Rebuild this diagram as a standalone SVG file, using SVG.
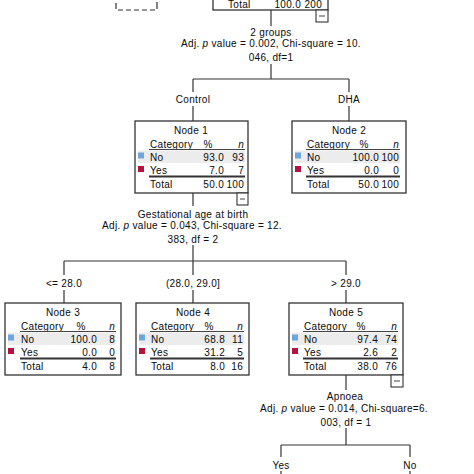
<svg xmlns="http://www.w3.org/2000/svg" width="474" height="474" viewBox="0 0 474 474">
<defs>
<style>
text{font-family:"Liberation Sans",Arial,sans-serif;font-size:10px;fill:#0a0a0a;letter-spacing:0.3px}
.c{text-anchor:middle}
.r{text-anchor:end}
.i{font-style:italic}
.box{fill:#fff;stroke:#333;stroke-width:1.3}
.ln{stroke:#333;stroke-width:1.2;fill:none}
.hl{stroke:#444;stroke-width:1}
.dl{stroke:#333;stroke-width:2}
.band{fill:#ececec}
.sqb{fill:#6ea6dc}
.sqr{fill:#b5123f}
.mb{fill:#fff;stroke:#333;stroke-width:1.1}
.dash{stroke:#333;stroke-width:1.2;stroke-dasharray:5 3;fill:none}
</style>
</defs>
<rect width="474" height="474" fill="#fff"/>

<g id="connectors">
<line class="ln" x1="271" y1="10" x2="271" y2="26"/>
<line class="ln" x1="271" y1="64" x2="271" y2="79"/>
<line class="ln" x1="193" y1="79" x2="349" y2="79"/>
<line class="ln" x1="193" y1="79" x2="193" y2="92"/>
<line class="ln" x1="349" y1="79" x2="349" y2="92"/>
<line class="ln" x1="193" y1="106" x2="193" y2="121"/>
<line class="ln" x1="349" y1="106" x2="349" y2="121"/>
<line class="ln" x1="193" y1="193" x2="193" y2="206"/>
<line class="ln" x1="193" y1="245" x2="193" y2="261"/>
<line class="ln" x1="64" y1="261" x2="346" y2="261"/>
<line class="ln" x1="64" y1="261" x2="64" y2="275"/>
<line class="ln" x1="193" y1="261" x2="193" y2="275"/>
<line class="ln" x1="346" y1="261" x2="346" y2="275"/>
<line class="ln" x1="64" y1="290" x2="64" y2="303"/>
<line class="ln" x1="193" y1="290" x2="193" y2="303"/>
<line class="ln" x1="346" y1="290" x2="346" y2="303"/>
<line class="ln" x1="346" y1="375" x2="346" y2="390"/>
<line class="ln" x1="346" y1="428" x2="346" y2="445"/>
<line class="ln" x1="281" y1="445" x2="410" y2="445"/>
<line class="ln" x1="281" y1="445" x2="281" y2="457"/>
<line class="ln" x1="410" y1="445" x2="410" y2="457"/>
<line class="ln" x1="281" y1="471" x2="281" y2="474"/>
<line class="ln" x1="410" y1="471" x2="410" y2="474"/>
</g>

<g id="split-labels">
<text class="c" x="271" y="35.5">2 groups</text>
<text class="c" x="271" y="47">Adj. <tspan class="i">p</tspan> value = 0.002, Chi-square = 10.</text>
<text class="c" x="271" y="61">046, df=1</text>
<text class="c" x="193" y="103">Control</text>
<text class="c" x="349" y="103">DHA</text>
<text class="c" x="193" y="217.5">Gestational age at birth</text>
<text class="c" x="192" y="229">Adj. <tspan class="i">p</tspan> value = 0.043, Chi-square = 12.</text>
<text class="c" x="193" y="243">383, df = 2</text>
<text class="c" x="64" y="287">&lt;= 28.0</text>
<text class="c" x="193" y="287">(28.0, 29.0]</text>
<text class="c" x="346" y="287">&gt; 29.0</text>
<text class="c" x="345" y="399.5">Apnoea</text>
<text class="c" x="344" y="411.5">Adj. <tspan class="i">p</tspan> value = 0.014, Chi-square=6.</text>
<text class="c" x="346" y="425.5">003, df = 1</text>
<text class="c" x="281" y="468.5">Yes</text>
<text class="c" x="410" y="468.5">No</text>
</g>

<g id="dashed-box">
<line class="dash" x1="118" y1="10" x2="157" y2="10"/>
<line class="ln" x1="116" y1="3" x2="116" y2="9"/>
<line class="ln" x1="157" y1="2" x2="157" y2="9"/>
</g>

<g id="node0">
<rect class="box" x="213" y="-62" width="115" height="72"/>
<line class="dl" x1="227" y1="-7" x2="323" y2="-7"/>
<text x="228" y="7.5">Total</text>
<text class="r" x="301" y="7.5">100.0</text>
<text class="r" x="322" y="7.5">200</text>
<rect class="mb" x="316" y="10" width="12" height="12"/>
<line class="hl" x1="319" y1="16" x2="325" y2="16"/>
</g>

<g id="node1" transform="translate(135,121)">
<rect class="box" x="0" y="0" width="113" height="72"/>
<text class="c" x="56" y="12.5">Node 1</text>
<text x="15" y="26.5">Category</text>
<text class="c" x="73" y="26.5">%</text>
<text class="r i" x="109" y="26.5">n</text>
<line class="hl" x1="14" y1="28.5" x2="110" y2="28.5"/>
<rect class="band" x="3" y="29.5" width="107" height="12.5"/>
<rect class="sqb" x="3" y="31.5" width="6" height="6"/>
<text x="15" y="39.5">No</text>
<text class="r" x="89" y="39.5">93.0</text>
<text class="r" x="109" y="39.5">93</text>
<rect class="sqr" x="3" y="45" width="6" height="6"/>
<text x="15" y="53">Yes</text>
<text class="r" x="89" y="53">7.0</text>
<text class="r" x="109" y="53">7</text>
<line class="dl" x1="14" y1="55.5" x2="110" y2="55.5"/>
<text x="15" y="66.5">Total</text>
<text class="r" x="89" y="66.5">50.0</text>
<text class="r" x="109" y="66.5">100</text>
<rect class="mb" x="102" y="72" width="11" height="12"/>
<line class="hl" x1="105" y1="78" x2="110" y2="78"/>
</g>

<g id="node2" transform="translate(292,121)">
<rect class="box" x="0" y="0" width="114" height="72"/>
<text class="c" x="57" y="12.5">Node 2</text>
<text x="15" y="26.5">Category</text>
<text class="c" x="72" y="26.5">%</text>
<text class="r i" x="107" y="26.5">n</text>
<line class="hl" x1="14" y1="28.5" x2="108" y2="28.5"/>
<rect class="band" x="3" y="29.5" width="105" height="12.5"/>
<rect class="sqb" x="3" y="31.5" width="6" height="6"/>
<text x="15" y="39.5">No</text>
<text class="r" x="87" y="39.5">100.0</text>
<text class="r" x="107" y="39.5">100</text>
<rect class="sqr" x="3" y="45" width="6" height="6"/>
<text x="15" y="53">Yes</text>
<text class="r" x="87" y="53">0.0</text>
<text class="r" x="107" y="53">0</text>
<line class="dl" x1="14" y1="55.5" x2="108" y2="55.5"/>
<text x="15" y="66.5">Total</text>
<text class="r" x="87" y="66.5">50.0</text>
<text class="r" x="107" y="66.5">100</text>
</g>

<g id="node3" transform="translate(5,303)">
<rect class="box" x="0" y="0" width="116" height="72"/>
<text class="c" x="58" y="12.5">Node 3</text>
<text x="16" y="26.5">Category</text>
<text class="c" x="76" y="26.5">%</text>
<text class="r i" x="110" y="26.5">n</text>
<line class="hl" x1="15" y1="28.5" x2="111" y2="28.5"/>
<rect class="band" x="3" y="29.5" width="108" height="12.5"/>
<rect class="sqb" x="3" y="31.5" width="6" height="6"/>
<text x="16" y="39.5">No</text>
<text class="r" x="92" y="39.5">100.0</text>
<text class="r" x="110" y="39.5">8</text>
<rect class="sqr" x="3" y="45" width="6" height="6"/>
<text x="16" y="53">Yes</text>
<text class="r" x="92" y="53">0.0</text>
<text class="r" x="110" y="53">0</text>
<line class="dl" x1="15" y1="55.5" x2="111" y2="55.5"/>
<text x="16" y="66.5">Total</text>
<text class="r" x="92" y="66.5">4.0</text>
<text class="r" x="110" y="66.5">8</text>
</g>

<g id="node4" transform="translate(136,303)">
<rect class="box" x="0" y="0" width="113" height="72"/>
<text class="c" x="57" y="12.5">Node 4</text>
<text x="15" y="26.5">Category</text>
<text class="c" x="73" y="26.5">%</text>
<text class="r i" x="107" y="26.5">n</text>
<line class="hl" x1="14" y1="28.5" x2="108" y2="28.5"/>
<rect class="band" x="3" y="29.5" width="105" height="12.5"/>
<rect class="sqb" x="3" y="31.5" width="6" height="6"/>
<text x="15" y="39.5">No</text>
<text class="r" x="89" y="39.5">68.8</text>
<text class="r" x="107" y="39.5">11</text>
<rect class="sqr" x="3" y="45" width="6" height="6"/>
<text x="15" y="53">Yes</text>
<text class="r" x="89" y="53">31.2</text>
<text class="r" x="107" y="53">5</text>
<line class="dl" x1="14" y1="55.5" x2="108" y2="55.5"/>
<text x="15" y="66.5">Total</text>
<text class="r" x="89" y="66.5">8.0</text>
<text class="r" x="107" y="66.5">16</text>
</g>

<g id="node5" transform="translate(289,303)">
<rect class="box" x="0" y="0" width="114" height="72"/>
<text class="c" x="57" y="12.5">Node 5</text>
<text x="15" y="26.5">Category</text>
<text class="c" x="72" y="26.5">%</text>
<text class="r i" x="108" y="26.5">n</text>
<line class="hl" x1="14" y1="28.5" x2="109" y2="28.5"/>
<rect class="band" x="3" y="29.5" width="106" height="12.5"/>
<rect class="sqb" x="3" y="31.5" width="6" height="6"/>
<text x="15" y="39.5">No</text>
<text class="r" x="89" y="39.5">97.4</text>
<text class="r" x="108" y="39.5">74</text>
<rect class="sqr" x="3" y="45" width="6" height="6"/>
<text x="15" y="53">Yes</text>
<text class="r" x="89" y="53">2.6</text>
<text class="r" x="108" y="53">2</text>
<line class="dl" x1="14" y1="55.5" x2="109" y2="55.5"/>
<text x="15" y="66.5">Total</text>
<text class="r" x="89" y="66.5">38.0</text>
<text class="r" x="108" y="66.5">76</text>
<rect class="mb" x="102" y="72" width="12" height="12"/>
<line class="hl" x1="105" y1="78" x2="111" y2="78"/>
</g>
</svg>
